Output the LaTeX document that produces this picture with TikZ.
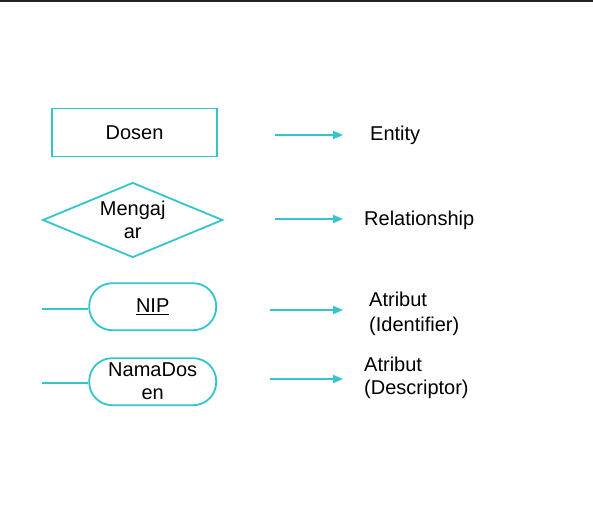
\documentclass[tikz,border=0pt]{standalone}
\usepackage{fontspec}
\setmainfont{Liberation Sans}
\usetikzlibrary{shapes.geometric,arrows.meta}
\definecolor{erdcyan}{HTML}{33C4CC}
\definecolor{topline}{HTML}{222222}
\tikzset{
	erd/.style={draw=erdcyan,line width=1.8pt,font=\fontsize{20}{23}\selectfont,align=center,inner sep=0pt},
	entitybox/.style={erd,rectangle,minimum width=165pt,minimum height=48pt},
	relbox/.style={erd,diamond,aspect=2.4,minimum width=180pt,minimum height=75pt},
	attrbox/.style={erd,rectangle,rounded corners=23pt,minimum width=127pt,minimum height=47pt},
	legend/.style={font=\fontsize{20}{23}\selectfont,align=left,inner sep=0pt},
	arrowline/.style={erdcyan,line width=1.8pt,-{Triangle[length=10pt,width=8pt]}},
	stub/.style={erdcyan,line width=1.8pt}
}
\begin{document}
\begin{tikzpicture}[x=1pt,y=-1pt]
	\useasboundingbox (0,0) rectangle (593,506);
	\draw[topline,line width=1.5pt] (0,0.75) -- (593,0.75);
	% shapes
	\node[entitybox] (dosen) at (134.5,132.5) {Dosen};
	\node[relbox] (mengajar) at (132.7,220) {Mengaj\\ar};
	\node[attrbox] (nip) at (152.7,306.7) {\underline{NIP}};
	\node[attrbox] (nama) at (152.7,381.7) {NamaDos\\en};
	\coordinate (nipstub) at (42,309);
	\coordinate (namastub) at (42,383);
	\draw[stub] (nipstub) -- (nip.west |- nipstub);
	\draw[stub] (namastub) -- (nama.west |- namastub);
	% legend
	\node[legend,anchor=base west] (entity) at (370,140) {Entity};
	\node[legend,anchor=base west] (relation) at (364,225) {Relationship};
	\node[legend,anchor=west] (identifier) at (369,314) {Atribut\\[2pt](Identifier)};
	\node[legend,anchor=west] (descriptor) at (364,378) {Atribut\\(Descriptor)};
	\coordinate (e1) at (275,135); \coordinate (e2) at (343,135);
	\coordinate (r1) at (275,219); \coordinate (r2) at (343,219);
	\coordinate (i1) at (270,310); \coordinate (i2) at (343,310);
	\coordinate (d1) at (270,379); \coordinate (d2) at (343,379);
	\draw[arrowline] (e1) -- (e2);
	\draw[arrowline] (r1) -- (r2);
	\draw[arrowline] (i1) -- (i2);
	\draw[arrowline] (d1) -- (d2);
\end{tikzpicture}
\end{document}
